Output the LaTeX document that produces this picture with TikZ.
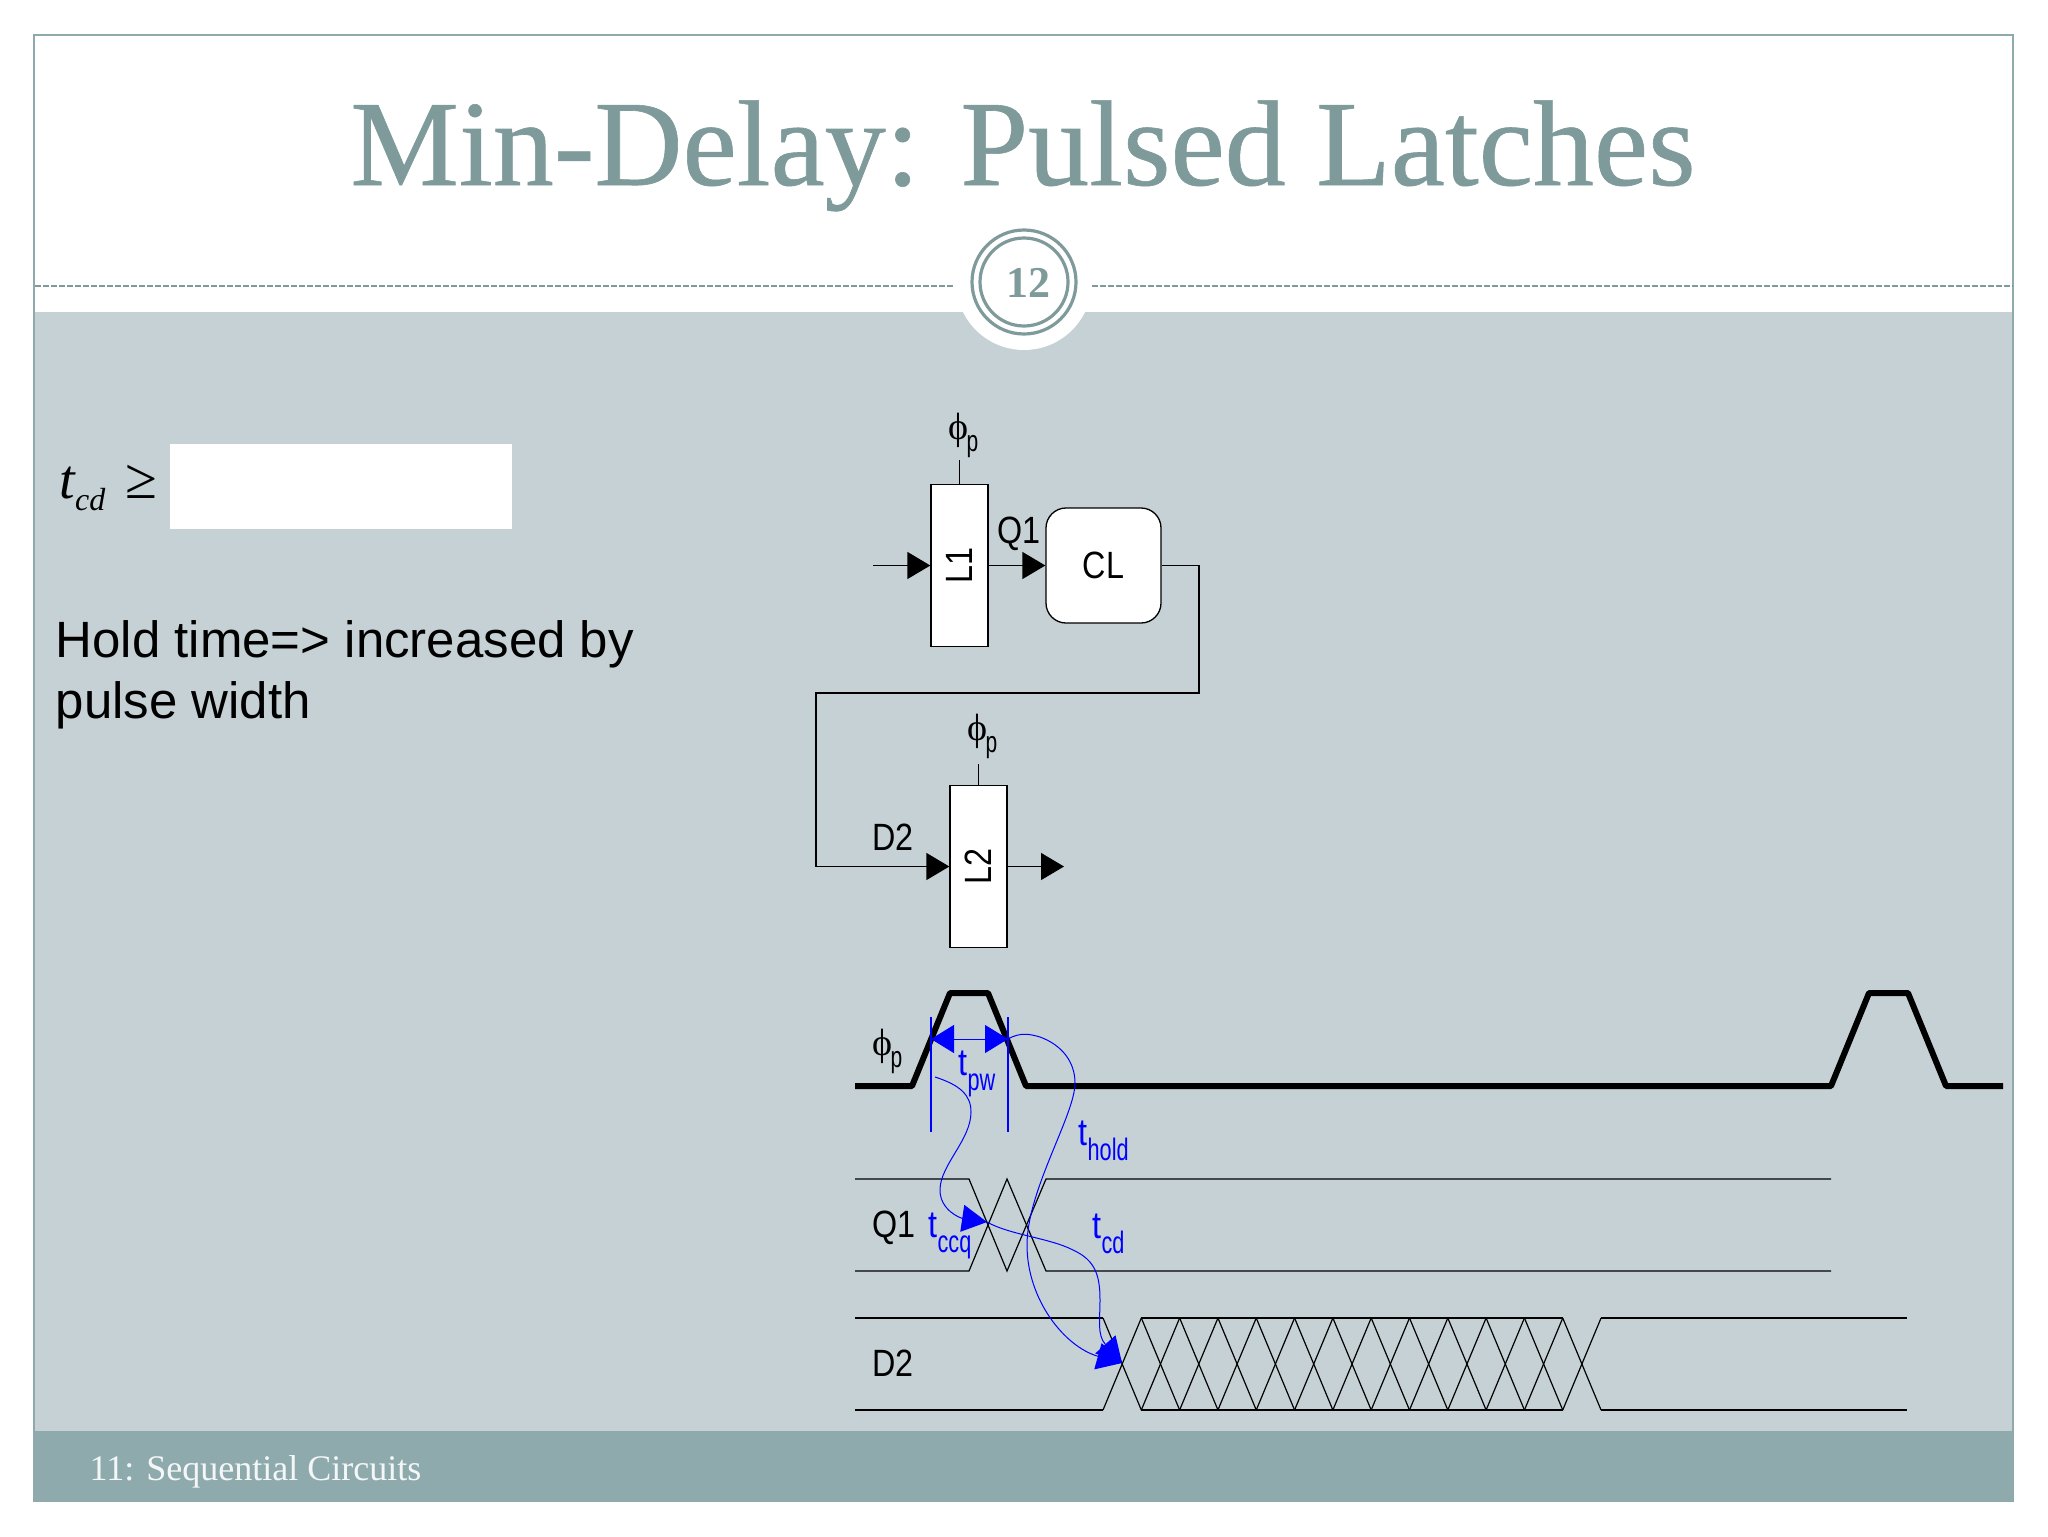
\documentclass[tikz,border=0pt]{standalone}
\usepackage{fontspec}
\usepackage{amsmath}
\setmainfont{Liberation Sans}
\newfontfamily\serifface{Liberation Serif}
\newfontfamily\titleface[FakeBold=0.5]{Liberation Serif}
\newfontfamily\narrowface[FakeStretch=0.85]{Liberation Sans}
\newfontfamily\subface[FakeStretch=0.7]{Liberation Sans}
\usetikzlibrary{arrows.meta,positioning}

\definecolor{slidebody}{HTML}{C5D1D5}
\definecolor{slidefoot}{HTML}{8FAAAD}
\definecolor{slideink}{HTML}{7F9A9A}

\newcommand{\tsub}[1]{{\fontsize{19}{19}\selectfont\narrowface t}\raisebox{-7.5pt}{\fontsize{15.5}{15.5}\selectfont\subface #1}}
\newcommand{\phip}{{\fontsize{19}{19}\selectfont\serifface ϕ}\hspace{-1pt}\raisebox{-6pt}{\fontsize{15}{15}\selectfont\subface p}}

\begin{document}
\begin{tikzpicture}[x=.5pt,y=-.5pt,>={Triangle[length=11.5pt,width=13.5pt]},line width=.65pt,node distance=72pt,font=\fontsize{19}{19}\selectfont\narrowface]
        \tikzstyle{latch}=[draw, fill=white, minimum width=28.5pt, minimum height=81pt, inner sep=0pt]
        \tikzstyle{logic}=[draw, fill=white, rounded corners=10pt, minimum width=57.5pt, minimum height=57.5pt, inner sep=0pt]
        \tikzstyle{lab}=[inner sep=0pt, anchor=base west]
        \tikzstyle{timing}=[lab, text=blue]
        \tikzstyle{wave}=[line width=.6pt, black]
        \tikzstyle{clk}=[line width=3pt, line join=round, black]
        \tikzstyle{delay}=[line width=.5pt, ->, >={Triangle[length=12.5pt,width=13.5pt]}, blue]

        \useasboundingbox (0,0) rectangle (2048,1536);

        % slide
        \fill[white] (0,0) rectangle (2048,1536);
        \fill[slidebody] (34,312) rectangle (2013,1431);
        \fill[slidefoot] (34,1431) rectangle (2013,1501);
        \draw[slidefoot, line width=1pt] (34,35) rectangle (2013,1501);
        \fill[white] (1024,282) circle (68);
        \fill[white] (940,240) rectangle (1108,312);
        \draw[slideink, line width=.8pt, dash pattern=on 3pt off 1pt] (35,286) -- (955,286);
        \draw[slideink, line width=.8pt, dash pattern=on 3pt off 1pt] (1092,286) -- (2013,286);
        \draw[slideink, line width=1.6pt] (1024,282) circle (52);
        \draw[slideink, line width=1.6pt] (1024,282) circle (44);
        \node[inner sep=0pt, text=slideink] (num) at (1028,283) {\fontsize{22}{22}\selectfont\serifface\bfseries 12};
        \node[inner sep=0pt, text=slideink, anchor=base] (title) at (1023,185) {\fontsize{61}{61}\selectfont\titleface Min-Delay: Pulsed Latches};
        \node[lab, text=white!90!slidefoot] (foot) at (89,1480) {\fontsize{18}{18}\selectfont\serifface 11: Sequential Circuits};

        % left column
        \fill[white] (170,444) rectangle (512,529);
        \node[lab] (tcd) at (59,498) {\fontsize{28}{28}\selectfont\serifface\itshape t\raisebox{-6pt}{\fontsize{16}{16}\selectfont cd}};
        \node[lab] (geq) at (125,498) {\fontsize{29}{29}\selectfont\serifface ≥};
        \node[lab, align=left, font=\fontsize{25.5}{30.5}\selectfont] (hold) at (55,718) {Hold time=> increased by\\pulse width};

        % latches
        \node[latch]             (L1)  at (959.5,565.5)                            {\rotatebox{90}{L1}};
        \node[logic]             (CL)  [right of=L1]                               {CL};
        \node[latch]             (L2)  [below of=L1, node distance=150.5pt, xshift=9.5pt] {\rotatebox{90}{L2}};

        \coordinate (in)    at (873,565.5);
        \coordinate (out)   at (1064,866.5);
        \coordinate (clkA)  at (959.5,460);
        \coordinate (clkB)  at (978.5,764);
        \coordinate (turnA) at (1199,693);
        \coordinate (turnB) at (816,693);

        \draw[->] (in) -- (L1);
        \draw[->] (L1) -- (CL);
        \draw[->] (L2) -- (out);
        \draw (L1) -- (clkA);
        \draw (L2) -- (clkB);
        \draw[->] (CL.east) -| (turnA) -- (turnB) |- (L2.west);

        \node[lab] (phiA) at (948,439)  {\phip};
        \node[lab] (phiB) at (967,740)  {\phip};
        \node[lab] (qA)   at (997,543)  {Q1};
        \node[lab] (dA)   at (872,850)  {D2};

        % waveforms
        \draw[clk] (855,1086) -- (912,1086) -- (950,993) -- (988,993) -- (1026,1086) -- (1831,1086)
                   -- (1869,993) -- (1908,993) -- (1946,1086) -- (2003,1086);

        \draw[wave] (855,1179) -- (969,1179) -- (1007,1271) -- (1046,1179) -- (1831,1179);
        \draw[wave] (855,1271) -- (969,1271) -- (1007,1179) -- (1046,1271) -- (1831,1271);

        \foreach \y in {1318,1410} {
            \draw[wave] (855,\y) -- (1103,\y);
            \draw[wave] (1141,\y) -- (1563,\y);
            \draw[wave] (1601,\y) -- (1907,\y);
        }
        \foreach \i in {0,...,12} {
            \pgfmathsetmacro{\xa}{1103+38.31*\i}
            \pgfmathsetmacro{\xb}{\xa+38.31}
            \draw[wave] (\xa,1318) -- (\xb,1410);
            \draw[wave] (\xa,1410) -- (\xb,1318);
        }

        \node[lab] (phiC) at (872,1055) {\phip};
        \node[lab] (qB)   at (872,1237) {Q1};
        \node[lab] (dB)   at (872,1376) {D2};

        % timing marks
        \coordinate (riseA) at (931,1017);
        \coordinate (riseB) at (931,1132);
        \coordinate (fallA) at (1008,1017);
        \coordinate (fallB) at (1008,1132);
        \coordinate (pwA)   at (931,1039);
        \coordinate (pwB)   at (1008,1039);
        \coordinate (launch) at (935,1077);
        \coordinate (q1x)    at (987,1222);
        \coordinate (d2x)    at (1122,1363);

        \draw[blue, line width=.6pt] (riseA) -- (riseB);
        \draw[blue, line width=.6pt] (fallA) -- (fallB);
        \draw[blue, line width=.5pt, <->, >={Triangle[length=11.5pt,width=14pt]}] (pwA) -- (pwB);

        \draw[delay] (launch) .. controls (960,1085) and (971,1095) .. (971,1112)
                     .. controls (971,1140) and (940,1165) .. (940,1190)
                     .. controls (940,1210) and (960,1218) .. (q1x);
        \draw[delay] (q1x) .. controls (1010,1235) and (1050,1238) .. (1073,1250)
                     .. controls (1095,1260) and (1100,1275) .. (1100,1300)
                     .. controls (1100,1320) and (1097,1335) .. (d2x);
        \draw[delay] (pwB) .. controls (1020,1032) and (1030,1034) .. (1040,1037)
                     .. controls (1062,1045) and (1075,1062) .. (1075,1083)
                     .. controls (1075,1115) and (1027,1190) .. (1027,1245)
                     .. controls (1027,1300) and (1065,1347) .. (d2x);

        \node[timing] (tpw)   at (958,1075)  {\tsub{pw}};
        \node[timing] (thold) at (1078,1145) {\tsub{hold}};
        \node[timing] (tccq)  at (928,1237)  {\tsub{ccq}};
        \node[timing] (tcdB)  at (1092,1238) {\tsub{cd}};
      \end{tikzpicture}
\end{document}
